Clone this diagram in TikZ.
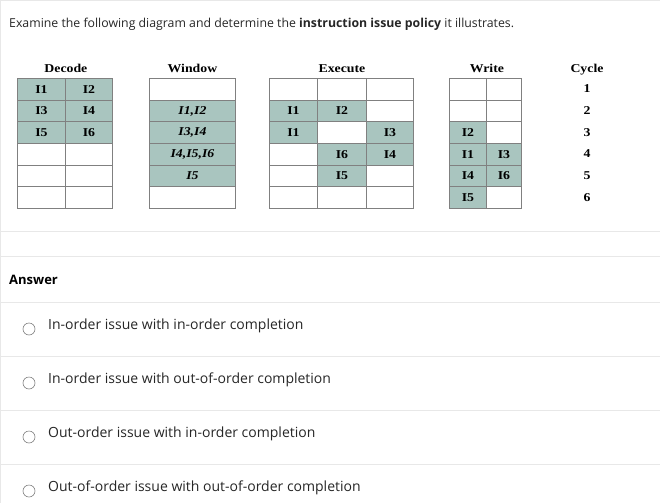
\documentclass[tikz,border=0pt]{standalone}
\usepackage{fontspec}
\setmainfont{Open Sans}
\newfontfamily\tabfont[FakeStretch=1.15]{Liberation Serif}
\usepackage{tikz}
\usetikzlibrary{positioning}
\definecolor{busyfill}{HTML}{A9C5BF}
\definecolor{gridgray}{HTML}{808080}
\definecolor{rulegray}{HTML}{E8E8E8}
\definecolor{textgray}{HTML}{262626}
\tikzstyle{cell} = [rectangle, draw=gridgray, line width=0.9pt, minimum height=21.67pt, inner sep=0pt, anchor=north west, font=\tabfont\fontsize{12}{14}\selectfont\bfseries]
\tikzstyle{busy} = [cell, fill=busyfill]
\tikzstyle{head} = [text height=8.5pt, text depth=2pt, inner sep=2pt, font=\tabfont\fontsize{12}{14}\selectfont\bfseries]
\tikzstyle{cyc} = [minimum height=21.67pt, inner sep=0pt, font=\tabfont\fontsize{12}{14}\selectfont\bfseries]
\tikzstyle{radio} = [circle, draw=gridgray, line width=0.6pt, minimum size=12pt, inner sep=0pt]
\tikzstyle{option} = [anchor=west, inner sep=0pt, text=textgray, font=\fontsize{14}{16}\selectfont]
\tikzstyle{rule} = [draw=rulegray, line width=1pt]

\begin{document}
\begin{tikzpicture}[x=1pt, y=-1pt]
				
				\useasboundingbox (0,0) rectangle (660,503);
				
				% Page frame and separators
				\draw [rule] (0.5,503) -- (0.5,0.5) -- (660,0.5);
				\foreach \y in {231.5, 256.5, 302.5, 356.5, 410.5, 464}
				\draw [rule] (0,\y) -- (660,\y);
				
				% Question
				\node (question) [anchor=west, inner sep=0pt, text=textgray, font=\fontsize{12.3}{14}\selectfont] at (9,24) {Examine the following diagram and determine the \textbf{instruction issue policy} it illustrates.};
				
				% Decode table
				\foreach \r/\sa/\ta/\sb/\tb in {1/busy/I1/busy/I2, 2/busy/I3/busy/I4, 3/busy/I5/busy/I6, 4/cell/{}/cell/{}, 5/cell/{}/cell/{}, 6/cell/{}/cell/{}}
				{
					\node (dec-\r-a) [\sa, minimum width=48pt] at (17,56.33+21.67*\r) {\ta};
					\node (dec-\r-b) [\sb, minimum width=47pt] at (65,56.33+21.67*\r) {\tb};
				}
				
				% Window table
				\foreach \r/\sa/\ta in {1/cell/{}, 2/busy/{I1,I2}, 3/busy/{I3,I4}, 4/busy/{I4,I5,I6}, 5/busy/{I5}, 6/cell/{}}
				\node (win-\r) [\sa, minimum width=86pt] at (149,56.33+21.67*\r) {\itshape\ta};
				
				% Execute table
				\foreach \r/\sa/\ta/\sb/\tb/\sc/\tc in {1/cell/{}/cell/{}/cell/{}, 2/busy/I1/busy/I2/cell/{}, 3/busy/I1/cell/{}/busy/I3, 4/cell/{}/busy/I6/busy/I4, 5/cell/{}/busy/I5/cell/{}, 6/cell/{}/cell/{}/cell/{}}
				{
					\node (exe-\r-a) [\sa, minimum width=48pt] at (269,56.33+21.67*\r) {\ta};
					\node (exe-\r-b) [\sb, minimum width=49pt] at (317,56.33+21.67*\r) {\tb};
					\node (exe-\r-c) [\sc, minimum width=47pt] at (366,56.33+21.67*\r) {\tc};
				}
				
				% Write table
				\foreach \r/\sa/\ta/\sb/\tb in {1/cell/{}/cell/{}, 2/cell/{}/cell/{}, 3/busy/I2/cell/{}, 4/busy/I1/busy/I3, 5/busy/I4/busy/I6, 6/busy/I5/cell/{}}
				{
					\node (wri-\r-a) [\sa, minimum width=37pt] at (449,56.33+21.67*\r) {\ta};
					\node (wri-\r-b) [\sb, minimum width=35pt] at (486,56.33+21.67*\r) {\tb};
				}
				
				% Cycle numbers
				\foreach \r in {1,...,6}
				\node (cyc-\r) [cyc] at (587,67.17+21.67*\r) {\r};
				
				% Headings
				\node (decodehead) [head, above=1pt of dec-1-a.north east] {Decode};
				\node (windowhead) [head, above=1pt of win-1.north] {Window};
				\node (executehead) [head, above=1pt of exe-1-b.north] {Execute};
				\node (writehead) [head, above=1pt of wri-1-a.north east] {Write};
				\node (cyclehead) [head, above=1pt of cyc-1.north] {Cycle};
				
				% Answer choices
				\node (answer) [option, text=black, font=\fontsize{13}{15}\selectfont\bfseries] at (9,280) {Answer};
				\foreach \k/\txt in {0/In-order issue with in-order completion, 1/In-order issue with out-of-order completion, 2/Out-order issue with in-order completion, 3/Out-of-order issue with out-of-order completion}
				{
					\node (radio-\k) [radio] at (29,329+54*\k) {};
					\node (option-\k) [option] at (48,326+54*\k) {\txt};
				}
				
			\end{tikzpicture}
\end{document}
